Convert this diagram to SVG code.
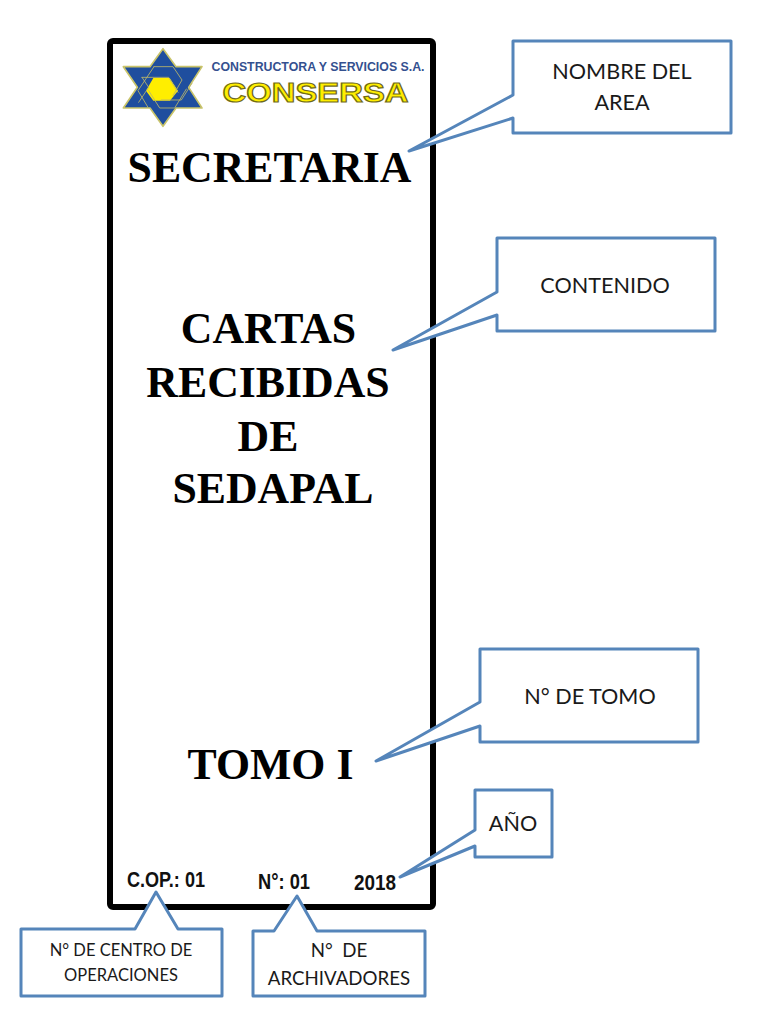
<svg xmlns="http://www.w3.org/2000/svg" width="768" height="1024" viewBox="0 0 768 1024">
<style>
.t{font-family:"Liberation Serif",serif;font-weight:bold;font-size:43.800px;fill:#000;text-anchor:middle}
.b{font-family:"Liberation Sans",sans-serif;font-weight:bold;font-size:22px;fill:#111;text-anchor:middle}
.c{fill:#fff;stroke:#5585ba;stroke-width:3;stroke-linejoin:round}
.l{font-family:Lato,"Open Sans",sans-serif;font-size:21.600px;fill:#1a1a1a;text-anchor:middle}
.s{font-size:16.500px}
.m{font-size:18.700px}
.g{fill:none;stroke:#b9b56a;stroke-width:2.600;stroke-linejoin:round;stroke-linecap:round}
</style>
<rect width="768" height="1024" fill="#fff"/>
<g id="frame"><rect x="110" y="41" width="323" height="866" rx="3" fill="#fff" stroke="#000" stroke-width="6"/></g>
<g id="logo">
<g transform="translate(118 44) scale(.3333)">
<polygon points="135,14 174,68 252,68 212,130 252,192 174,192 135,247 96,192 16,192 58,130 16,68 96,68" fill="#1f4e9e" stroke="#c9c46a" stroke-width="5" stroke-linejoin="round"/>
<polygon points="106,102 155,102 180,140 156,170 106,170 84,140" fill="#ffee00"/>
<path class="g" d="M108,68 H165 L192,108 L165,155"/>
<path class="g" d="M72,100 H152 L180,145"/>
<path class="g" d="M108,68 L60,140 L90,190"/>
<path class="g" d="M72,100 L92,130 L62,175"/>
<path class="g" d="M92,140 L125,192 H170 L205,135"/>
<path class="g" d="M130,168 H190 L222,118"/>
</g>
<text x="318" y="71" font-family="Liberation Sans,sans-serif" font-weight="bold" font-size="13" fill="#34508f" text-anchor="middle" textLength="213" lengthAdjust="spacingAndGlyphs">CONSTRUCTORA Y SERVICIOS S.A.</text>
<text x="315.500" y="102" font-family="Liberation Sans,sans-serif" font-weight="bold" font-size="28" fill="#ffee00" stroke="#6f6a1a" stroke-width="1.200" text-anchor="middle" textLength="186" lengthAdjust="spacingAndGlyphs">CONSERSA</text>
</g>
<g id="titles">
<text class="t" x="269.500" y="182">SECRETARIA</text>
<text class="t" x="268.500" y="343">CARTAS</text>
<text class="t" x="268" y="397">RECIBIDAS</text>
<text class="t" x="268" y="451">DE</text>
<text class="t" x="273" y="503">SEDAPAL</text>
<text class="t" x="270.500" y="779">TOMO I</text>
<text class="b" x="166" y="887" textLength="78" lengthAdjust="spacingAndGlyphs">C.OP.: 01</text>
<text class="b" x="284" y="889" textLength="52" lengthAdjust="spacingAndGlyphs">N°: 01</text>
<text class="b" x="375" y="890" textLength="42" lengthAdjust="spacingAndGlyphs">2018</text>
</g>
<g id="c-area"><polygon class="c" points="513,41 731,41 731,133 513,133 513,118 409,151 513,95"/>
<text class="l" x="622" y="79">NOMBRE DEL</text><text class="l" x="622" y="110">AREA</text></g>
<g id="c-contenido"><polygon class="c" points="497,238 715,238 715,331 497,331 497,315 393,350 497,292"/>
<text class="l" x="605" y="293">CONTENIDO</text></g>
<g id="c-tomo"><polygon class="c" points="480,649 698,649 698,742 480,742 480,726 376,761 480,702"/>
<text class="l" x="590" y="704">N° DE TOMO</text></g>
<g id="c-anio"><polygon class="c" points="475,790 552,790 552,857 475,857 475,846 400,877 475,830"/>
<text class="l" x="513" y="831">AÑO</text></g>
<g id="c-cop"><polygon class="c" points="21,929 135,929 156,892 178,929 222,929 222,996 21,996"/>
<text class="l s" x="121" y="956">N° DE CENTRO DE</text><text class="l s" x="121" y="981">OPERACIONES</text></g>
<g id="c-arch"><polygon class="c" points="253,931 274,931 297,896 317,931 425,931 425,996 253,996"/>
<text class="l m" x="339" y="957" xml:space="preserve">N°  DE</text><text class="l m" x="339" y="985">ARCHIVADORES</text></g>
</svg>
